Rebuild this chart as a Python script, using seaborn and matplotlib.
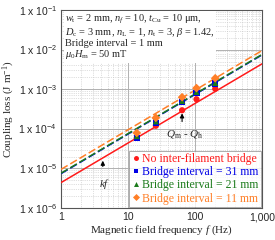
import matplotlib
matplotlib.use("Agg")
import matplotlib.pyplot as plt
import matplotlib.ticker as mticker
import seaborn as sns
import pandas as pd
import numpy as np

freq = [13.5, 26, 64, 105, 200]
loss_none = [6.0e-5, 1.2e-4, 2.95e-4, 5.6e-4, 1.03e-3]
loss_31 = [5.9e-5, 1.4e-4, 4.8e-4, 8.0e-4, 1.40e-3]
loss_21 = [6.6e-5, 1.55e-4, 5.1e-4, 8.6e-4, 1.45e-3]
loss_11 = [7.9e-5, 1.9e-4, 6.3e-4, 1.07e-3, 1.9e-3]

# fitted kf lines, end points at 1 Hz and 1000 Hz
line_f = [1, 1000]
line_none = [4.4e-6, 4.4e-3]
line_31 = [7.4e-6, 7.4e-3]
line_21 = [7.6e-6, 7.6e-3]
line_11 = [9.5e-6, 9.5e-3]

labels = ["No inter-filament bridge", "Bridge interval = 31 mm",
          "Bridge interval = 21 mm", "Bridge interval = 11 mm"]
colors = ["#ff1a1a", "#0000e6", "#1a7a1a", "#ff7f27"]
markers = ["o", "s", "^", "D"]
dashes = ["", (5, 2), (5, 2), (5, 2)]

pts = pd.DataFrame({
    "f": freq * 4,
    "loss": loss_none + loss_31 + loss_21 + loss_11,
    "case": sum([[l] * len(freq) for l in labels], []),
})
lines = pd.DataFrame({
    "f": line_f * 4,
    "loss": line_none + line_31 + line_21 + line_11,
    "case": sum([[l] * 2 for l in labels], []),
})

sns.set_style("white")
plt.rcParams['font.family'] = ['Liberation Serif', 'DejaVu Serif']
plt.rcParams['mathtext.fontset'] = 'custom'
plt.rcParams['mathtext.rm'] = 'Liberation Serif'
plt.rcParams['mathtext.it'] = 'Liberation Serif:italic'

fig = plt.figure(figsize=(2.75, 2.4), dpi=100)
ax = fig.add_axes([0.222, 0.133, 0.731, 0.825])

pal = dict(zip(labels, colors))
sns.lineplot(data=lines, x="f", y="loss", hue="case", style="case",
             palette=pal, dashes=dict(zip(labels, dashes)), lw=1.1,
             legend=False, ax=ax, zorder=3)
sns.scatterplot(data=pts, x="f", y="loss", hue="case", style="case",
                palette=pal, markers=dict(zip(labels, markers)), s=20,
                edgecolor="none", ax=ax, zorder=4)

ax.set_xscale("log")
ax.set_yscale("log")
ax.set_xlim(1, 1000)
ax.set_ylim(1e-6, 1e-1)

ax.xaxis.set_major_locator(mticker.FixedLocator([1, 10, 100, 1000]))
ax.xaxis.set_major_formatter(mticker.FixedFormatter(["1", "10", "100", "1,000"]))
yt = [1e-6, 1e-5, 1e-4, 1e-3, 1e-2, 1e-1]
ax.yaxis.set_major_locator(mticker.FixedLocator(yt))
ax.yaxis.set_major_formatter(mticker.FixedFormatter(
    [r"1 x 10$^{\mathregular{%d}}$" % int(np.log10(v)) for v in yt]))
ax.xaxis.set_minor_locator(mticker.LogLocator(base=10, subs=np.arange(2, 10), numticks=20))
ax.yaxis.set_minor_locator(mticker.LogLocator(base=10, subs=np.arange(2, 10), numticks=20))
ax.xaxis.set_minor_formatter(mticker.NullFormatter())
ax.yaxis.set_minor_formatter(mticker.NullFormatter())

for lab in ax.get_xticklabels() + ax.get_yticklabels():
    lab.set_family(['Liberation Sans', 'DejaVu Sans'])
    lab.set_fontsize(7.5)
ax.tick_params(which="both", length=0, pad=3)

ax.grid(which="major", color="#b0b0b0", lw=0.7, ls="-")
ax.grid(which="minor", color="#c0c0c0", lw=0.5, ls=":")
for s in ax.spines.values():
    s.set_color("#555555")
    s.set_linewidth(0.8)

ax.set_xlabel(r"Magnetic field frequency $f$ (Hz)", fontsize=8, labelpad=1)
ax.set_ylabel(r"Coupling loss (J m$^{\mathregular{-1}}$)", fontsize=8, labelpad=1)

# parameter box
ax.text(0.02, 0.985,
        "$w_{\\mathregular{t}}$ = 2 mm, $n_{f}$ = 10, $t_{\\mathregular{Cu}}$ = 10 \u03bcm,\n"
        "$D_{\\mathregular{c}}$ = 3 mm, $n_{\\mathregular{L}}$ = 1, $n_{\\mathregular{t}}$ = 3, $\\beta$ = 1.42,\n"
        "Bridge interval = 1 mm\n"
        "$\\mu_{\\mathregular{0}}H_{\\mathregular{m}}$ = 50 mT",
        transform=ax.transAxes, ha="left", va="top", fontsize=7.5,
        linespacing=1.0, zorder=5,
        bbox=dict(boxstyle="square,pad=0.15", fc="white", ec="none"))

# annotations
ax.annotate("", xy=(4.2, 4.2 * 4.4e-6), xytext=(4.2, 9.5e-6),
            arrowprops=dict(arrowstyle="-|>", color="black", lw=0.8,
                            mutation_scale=6), zorder=5)
ax.text(4.4, 4.0e-6, r"$kf$", fontsize=8, ha="center", va="center", zorder=5)
ax.annotate("", xy=(64, 2.9e-4), xytext=(64, 1.3e-4),
            arrowprops=dict(arrowstyle="-|>", color="black", lw=0.8,
                            mutation_scale=6), zorder=5)
ax.text(70, 7.6e-5, r"$Q_{\mathregular{m}}$ - $Q_{\mathregular{h}}$",
        fontsize=8, ha="center", va="center", zorder=5)

leg = ax.legend(loc="lower right", fontsize=8.5, handletextpad=0.1,
                handlelength=0.8, borderpad=0.2, labelspacing=0.1,
                borderaxespad=0.1, frameon=True, fancybox=False,
                markerscale=0.8)
leg.get_frame().set_edgecolor("#888888")
leg.get_frame().set_linewidth(0.6)
for t, c in zip(leg.get_texts(), colors):
    t.set_color(c)

fig.savefig("out.png", dpi=100)
